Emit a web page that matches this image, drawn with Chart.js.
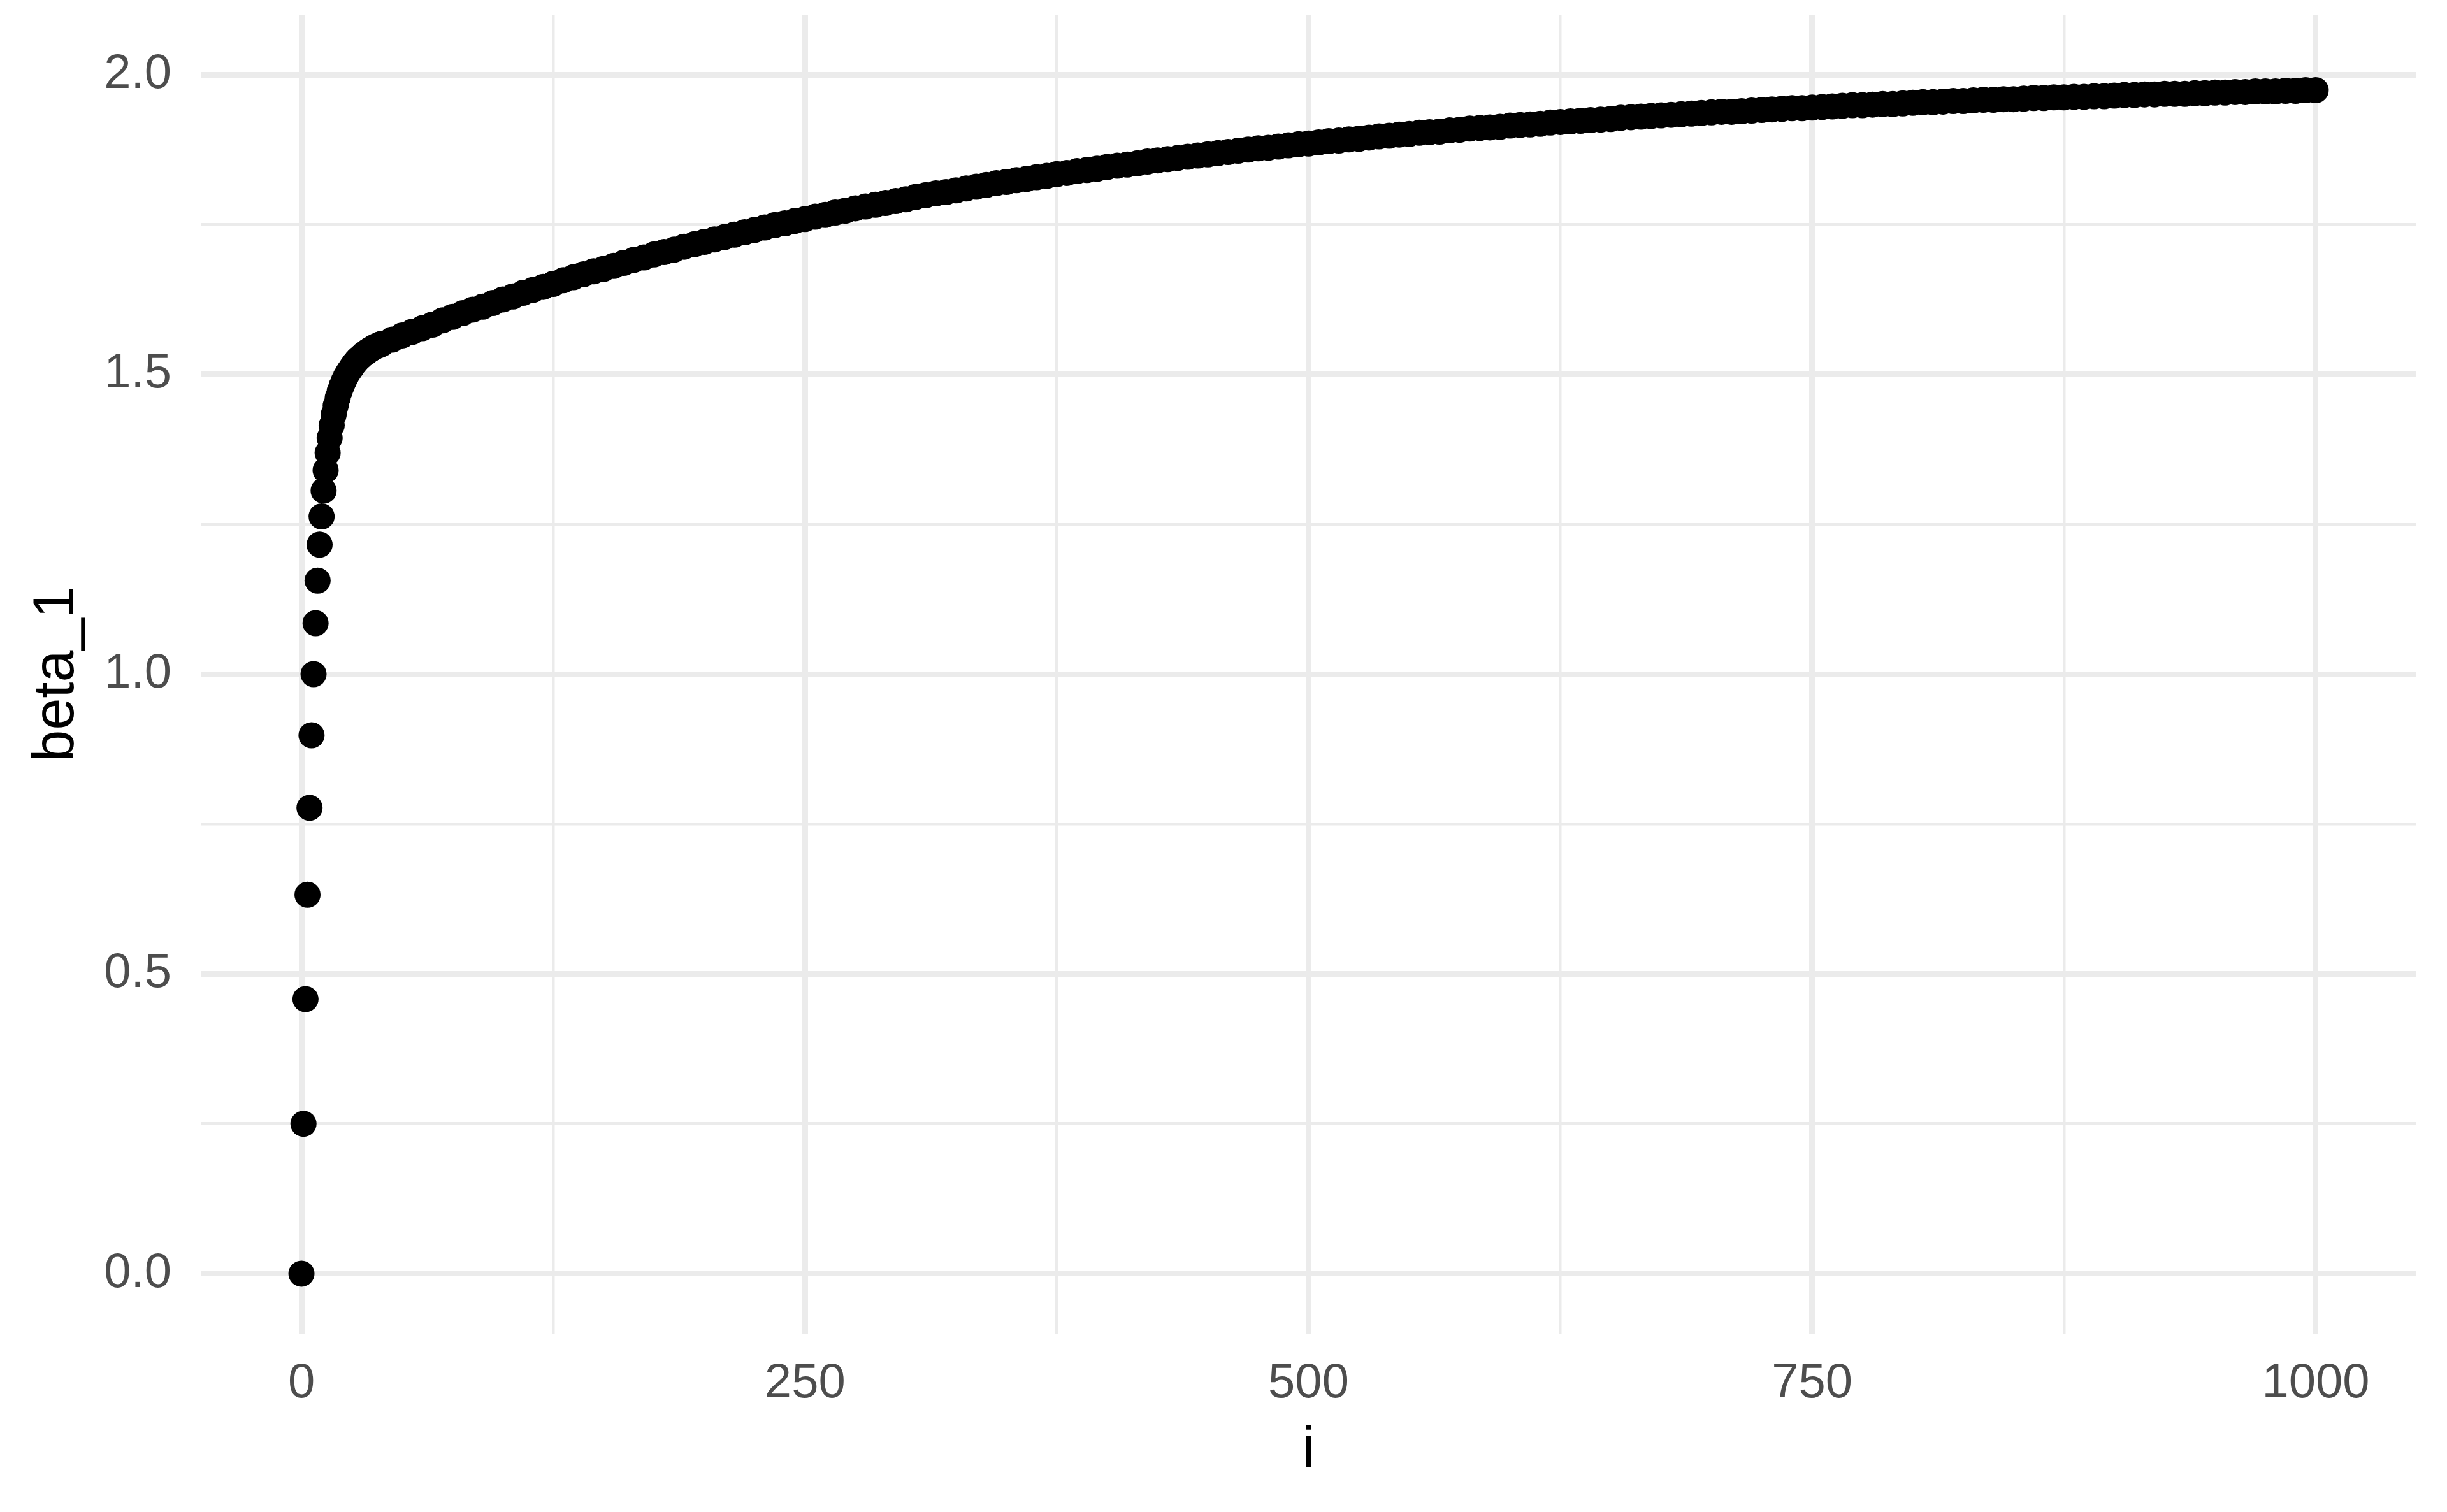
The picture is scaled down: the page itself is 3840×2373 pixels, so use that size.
<!DOCTYPE html>
<html>
<head>
<meta charset="utf-8">
<script src="https://cdn.jsdelivr.net/npm/chart.js"></script>
<style>
  html, body { margin: 0; padding: 0; background: #ffffff; }
  #wrap { width: 3840px; height: 2373px; position: relative; }
</style>
</head>
<body>
<div id="wrap"><canvas id="betaChart"></canvas></div>
<script>
// iteration index (every step up to 39, then every 5th step)
const iSteps = [
  0, 1, 2, 3, 4, 5, 6, 7, 8, 9,
  10, 11, 12, 13, 14, 15, 16, 17, 18, 19,
  20, 21, 22, 23, 24, 25, 26, 27, 28, 29,
  30, 31, 32, 33, 34, 35, 36, 37, 38, 39,
  40, 45, 50, 55, 60, 65, 70, 75, 80, 85,
  90, 95, 100, 105, 110, 115, 120, 125, 130, 135,
  140, 145, 150, 155, 160, 165, 170, 175, 180, 185,
  190, 195, 200, 205, 210, 215, 220, 225, 230, 235,
  240, 245, 250, 255, 260, 265, 270, 275, 280, 285,
  290, 295, 300, 305, 310, 315, 320, 325, 330, 335,
  340, 345, 350, 355, 360, 365, 370, 375, 380, 385,
  390, 395, 400, 405, 410, 415, 420, 425, 430, 435,
  440, 445, 450, 455, 460, 465, 470, 475, 480, 485,
  490, 495, 500, 505, 510, 515, 520, 525, 530, 535,
  540, 545, 550, 555, 560, 565, 570, 575, 580, 585,
  590, 595, 600, 605, 610, 615, 620, 625, 630, 635,
  640, 645, 650, 655, 660, 665, 670, 675, 680, 685,
  690, 695, 700, 705, 710, 715, 720, 725, 730, 735,
  740, 745, 750, 755, 760, 765, 770, 775, 780, 785,
  790, 795, 800, 805, 810, 815, 820, 825, 830, 835,
  840, 845, 850, 855, 860, 865, 870, 875, 880, 885,
  890, 895, 900, 905, 910, 915, 920, 925, 930, 935,
  940, 945, 950, 955, 960, 965, 970, 975, 980, 985,
  990, 995, 1000
];

// beta_1, same order as iSteps
const beta1 = [
  0.000, 0.250, 0.458, 0.632, 0.777, 0.898, 1.000, 1.085, 1.156, 1.216,
  1.263, 1.306, 1.340, 1.369, 1.394, 1.415, 1.433, 1.448, 1.461, 1.472,
  1.481, 1.489, 1.496, 1.502, 1.507, 1.512, 1.517, 1.521, 1.525, 1.528,
  1.531, 1.534, 1.536, 1.539, 1.541, 1.543, 1.545, 1.547, 1.548, 1.550,
  1.551, 1.558, 1.565, 1.571, 1.577, 1.583, 1.590, 1.596, 1.602, 1.608,
  1.613, 1.619, 1.625, 1.630, 1.636, 1.641, 1.646, 1.651, 1.657, 1.662,
  1.667, 1.672, 1.676, 1.681, 1.686, 1.691, 1.695, 1.700, 1.704, 1.708,
  1.713, 1.717, 1.721, 1.725, 1.729, 1.733, 1.737, 1.741, 1.745, 1.749,
  1.752, 1.756, 1.759, 1.763, 1.766, 1.770, 1.773, 1.777, 1.780, 1.783,
  1.786, 1.789, 1.792, 1.796, 1.799, 1.802, 1.804, 1.807, 1.810, 1.813,
  1.816, 1.819, 1.821, 1.824, 1.826, 1.829, 1.831, 1.834, 1.836, 1.839,
  1.841, 1.843, 1.846, 1.848, 1.850, 1.852, 1.855, 1.857, 1.859, 1.861,
  1.863, 1.865, 1.867, 1.869, 1.871, 1.873, 1.875, 1.877, 1.878, 1.880,
  1.882, 1.884, 1.885, 1.887, 1.889, 1.890, 1.892, 1.893, 1.895, 1.897,
  1.898, 1.900, 1.901, 1.903, 1.904, 1.905, 1.907, 1.908, 1.910, 1.911,
  1.912, 1.913, 1.915, 1.916, 1.917, 1.918, 1.920, 1.921, 1.922, 1.923,
  1.924, 1.925, 1.926, 1.928, 1.929, 1.930, 1.931, 1.932, 1.933, 1.934,
  1.935, 1.936, 1.937, 1.938, 1.938, 1.939, 1.940, 1.941, 1.942, 1.943,
  1.944, 1.944, 1.945, 1.946, 1.947, 1.948, 1.949, 1.949, 1.950, 1.951,
  1.951, 1.952, 1.953, 1.954, 1.954, 1.955, 1.956, 1.956, 1.957, 1.958,
  1.958, 1.959, 1.959, 1.960, 1.961, 1.961, 1.962, 1.962, 1.963, 1.963,
  1.964, 1.964, 1.965, 1.966, 1.966, 1.967, 1.967, 1.968, 1.968, 1.968,
  1.969, 1.969, 1.970, 1.970, 1.971, 1.971, 1.972, 1.972, 1.972, 1.973,
  1.973, 1.974, 1.974
];

// grid positions (major + minor) and the labels shown at the majors
const xGrid = [0, 125, 250, 375, 500, 625, 750, 875, 1000];
const xMajorLabels = { 0: '0', 250: '250', 500: '500', 750: '750', 1000: '1000' };
const yGrid = [0, 0.25, 0.5, 0.75, 1.0, 1.25, 1.5, 1.75, 2.0];
const yMajorLabels = { 0: '0.0', 0.5: '0.5', 1: '1.0', 1.5: '1.5', 2: '2.0' };

const FONT = '"Liberation Sans", Arial, Helvetica, sans-serif';
const GRID_COLOR = '#EBEBEB';

function gridWidth(labels) {
    return function (ctx) {
        if (!ctx.tick) return 0;
        return (ctx.tick.value in labels) ? 9 : 4.5;
    };
}

document.addEventListener('DOMContentLoaded', function () {
    const points = iSteps.map((x, k) => ({ x: x, y: beta1[k] }));

    new Chart(document.getElementById('betaChart').getContext('2d'), {
        type: 'scatter',
        data: {
            datasets: [{
                label: 'beta_1',
                data: points,
                backgroundColor: '#000000',
                borderWidth: 0,
                pointRadius: 20.5,
                pointHoverRadius: 20.5
            }]
        },
        options: {
            responsive: true,
            maintainAspectRatio: false,
            devicePixelRatio: 1,
            animation: false,
            events: [],
            layout: { padding: { left: 0, right: 48, top: 23, bottom: 0 } },
            plugins: {
                legend: { display: false },
                tooltip: { enabled: false },
                title: { display: false }
            },
            scales: {
                x: {
                    type: 'linear',
                    min: -50,
                    max: 1050,
                    afterBuildTicks: function (scale) {
                        scale.ticks = xGrid.map(v => ({ value: v }));
                    },
                    afterFit: function (scale) {
                        scale.height = 280;
                        scale.paddingLeft = 0;
                        scale.paddingRight = 0;
                    },
                    border: { display: false },
                    grid: {
                        color: GRID_COLOR,
                        lineWidth: gridWidth(xMajorLabels),
                        drawTicks: false
                    },
                    ticks: {
                        autoSkip: false,
                        maxRotation: 0,
                        padding: 33,
                        color: '#4D4D4D',
                        font: { family: FONT, size: 76 },
                        callback: function (value) {
                            return (value in xMajorLabels) ? xMajorLabels[value] : '';
                        }
                    },
                    title: {
                        display: true,
                        text: 'i',
                        color: '#000000',
                        font: { family: FONT, size: 90 },
                        padding: { top: 0, bottom: 42 }
                    }
                },
                y: {
                    type: 'linear',
                    min: -0.1,
                    max: 2.1,
                    afterBuildTicks: function (scale) {
                        scale.ticks = yGrid.map(v => ({ value: v }));
                    },
                    afterFit: function (scale) {
                        scale.width = 315;
                        scale.paddingTop = 0;
                        scale.paddingBottom = 0;
                    },
                    border: { display: false },
                    grid: {
                        color: GRID_COLOR,
                        lineWidth: gridWidth(yMajorLabels),
                        drawTicks: false
                    },
                    ticks: {
                        autoSkip: false,
                        padding: 46,
                        color: '#4D4D4D',
                        font: { family: FONT, size: 76 },
                        callback: function (value) {
                            return (value in yMajorLabels) ? yMajorLabels[value] : '';
                        }
                    },
                    title: {
                        display: true,
                        text: 'beta_1',
                        color: '#000000',
                        font: { family: FONT, size: 90 },
                        padding: { top: 36, bottom: 0 }
                    }
                }
            }
        }
    });
});
</script>
</body>
</html>
